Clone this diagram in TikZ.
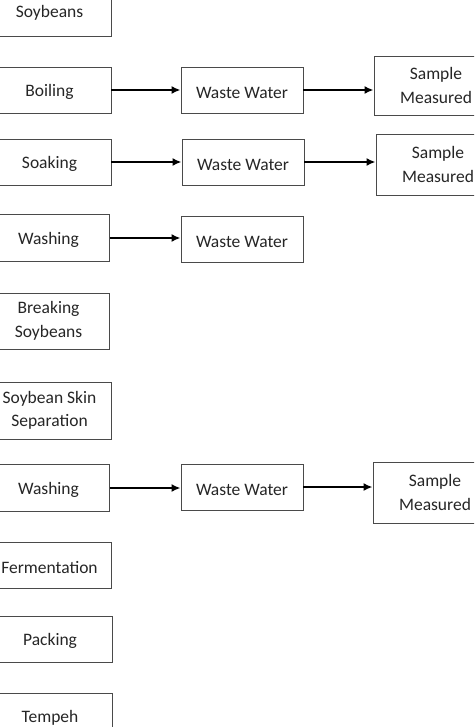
\documentclass[tikz,border=0pt]{standalone}
\usepackage{fontspec}
\setmainfont{Carlito}
\usetikzlibrary{arrows.meta}
\definecolor{edge}{HTML}{4A4A4A}
\definecolor{ink}{HTML}{262626}
\tikzset{
  box/.style={draw=edge, line width=0.9pt, fill=white, inner sep=0pt, align=center,
    text=ink, font=\fontsize{17.5}{23.5}\selectfont,
    execute at begin node={\rule{0pt}{16.5pt}}},
  flow/.style={draw=black, line width=1.8pt, -{Latex[length=9pt,width=8pt]}}
}
\begin{document}
\begin{tikzpicture}[x=1pt,y=-1pt]
\useasboundingbox (0,0) rectangle (474,727);
\begin{scope}
\clip (0,0) rectangle (474,727);
% left column
\node[box, minimum width=123pt, minimum height=50pt] (soy) at (49.5,11) {Soybeans};
\node[box, minimum width=123pt, minimum height=46pt] (boil) at (49.5,90) {Boiling};
\node[box, minimum width=123pt, minimum height=46pt] (soak) at (49.5,162) {Soaking};
\node[box, minimum width=122pt, minimum height=47pt] (wash1) at (48.5,238) {Washing};
\node[box, minimum width=122pt, minimum height=56pt] (break) at (48.5,321) {Breaking\\Soybeans};
\node[box, minimum width=123pt, minimum height=57pt] (skin) at (49.5,410.5) {Soybean Skin\\Separation};
\node[box, minimum width=122pt, minimum height=47pt] (wash2) at (48.5,488) {Washing};
\node[box, minimum width=123pt, minimum height=46pt] (ferm) at (49.5,565) {Fermentation};
\node[box, minimum width=124pt, minimum height=46pt] (pack) at (50,639) {Packing};
\node[box, minimum width=124pt, minimum height=46pt] (temp) at (50,716) {Tempeh};
% waste water
\node[box, minimum width=122pt, minimum height=46pt] (ww1) at (242,90) {Waste Water};
\node[box, minimum width=122pt, minimum height=46pt] (ww2) at (243,162) {Waste Water};
\node[box, minimum width=122pt, minimum height=46pt] (ww3) at (242,239) {Waste Water};
\node[box, minimum width=122pt, minimum height=46pt] (ww4) at (242,487) {Waste Water};
% samples
\node[box, minimum width=124pt, minimum height=59pt] (sm1) at (436,85.5) {Sample\\Measured};
\node[box, minimum width=124pt, minimum height=61pt] (sm2) at (438,164.5) {Sample\\Measured};
\node[box, minimum width=124pt, minimum height=61pt] (sm4) at (435,492.5) {Sample\\Measured};
% arrows
\draw[flow] (boil.east) -- (ww1.west);
\draw[flow] (ww1.east) -- (ww1.east -| sm1.west);
\draw[flow] (soak.east) -- (ww2.west);
\draw[flow] (ww2.east) -- (ww2.east -| sm2.west);
\draw[flow] (wash1.east) -- (wash1.east -| ww3.west);
\draw[flow] (wash2.east) -- (wash2.east -| ww4.west);
\draw[flow] (ww4.east) -- (ww4.east -| sm4.west);
\end{scope}
\end{tikzpicture}
\end{document}
